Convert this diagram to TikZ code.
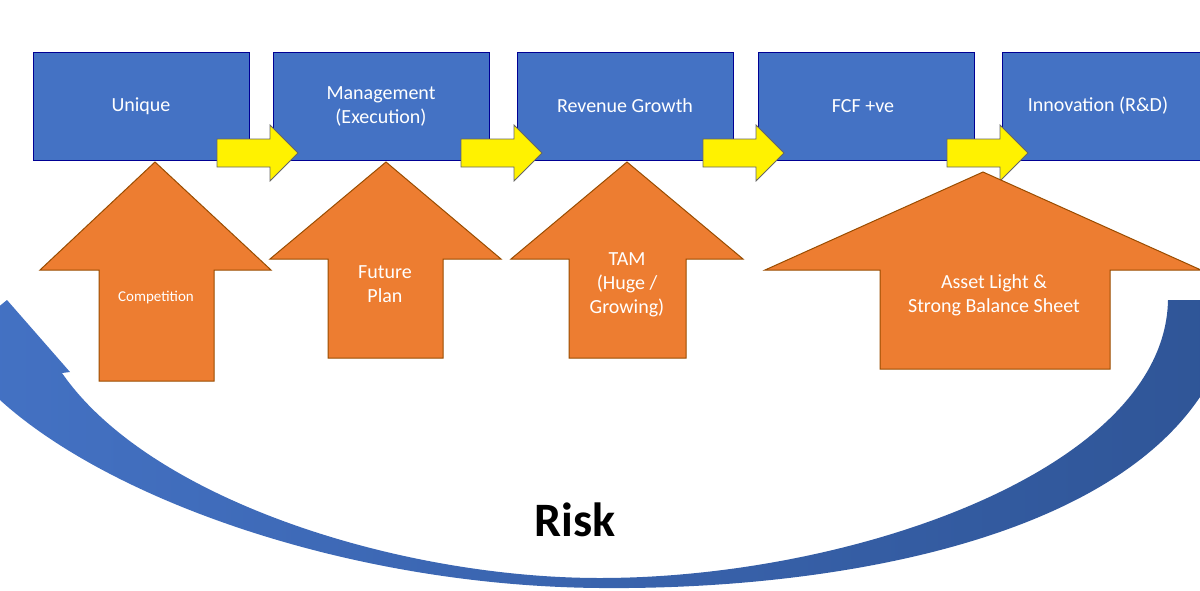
\documentclass[tikz,border=0pt]{standalone}
\usepackage{fontspec}
\setmainfont{Carlito}
\begin{document}
\begin{tikzpicture}[x=0.5pt,y=-0.5pt,
  bluebox/.style={draw=blue!40!black!70!blue, fill=boxblue, line width=0.5pt},
  yarrow/.style={draw=black!60, fill=yellow, line width=0.4pt},
  oarrow/.style={draw=orange!50!black!80!orange, fill=arrorange, line width=0.5pt},
  wtext/.style={text=white, font=\fontsize{10}{12}\selectfont, align=center}]
\definecolor{boxblue}{HTML}{4472C4}
\definecolor{arrorange}{HTML}{ED7D31}
\definecolor{darkblue}{HTML}{2F5597}
\useasboundingbox (0,0) rectangle (1200,590);
\clip (0,0) rectangle (1200,590);
% Risk curved arrow
\path[left color=boxblue, right color=darkblue, draw=none]
 (1200,397) .. controls (1100,545) and (820,590) .. (600,588)
 .. controls (350,586) and (110,500) .. (0,400)
 -- (-40,350) -- (-30,330) -- (7,300) -- (70,372) -- (62,373)
 .. controls (150,500) and (400,578) .. (600,578)
 .. controls (850,578) and (1165,470) .. (1168,300) -- (1220,300) -- (1220,397) -- cycle;
% blue boxes
\node[bluebox, minimum width=108pt, minimum height=54pt, inner sep=0, wtext] (b1) at (141,106) {Unique};
\node[bluebox, minimum width=108pt, minimum height=54pt, inner sep=0, wtext] (b2) at (381,106) {Management\\(Execution)};
\node[bluebox, minimum width=108pt, minimum height=54pt, inner sep=0, wtext] (b3) at (625,106) {Revenue Growth};
\node[bluebox, minimum width=108pt, minimum height=54pt, inner sep=0, wtext] (b4) at (866,106) {};
\node[wtext] (t4) at (863,106) {FCF +ve};
\node[bluebox, minimum width=108pt, minimum height=54pt, inner sep=0] (b5) at (1110,106) {};
\node[wtext] (t5) at (1098,106) {Innovation (R\&D)};
% yellow arrows
\foreach \s in {217,461,703,947}{
  \draw[yarrow] (\s,139) -- (\s+53,139) -- (\s+53,125) -- (\s+81,153) -- (\s+53,181) -- (\s+53,167) -- (\s,167) -- cycle;
}
% orange arrows
\draw[oarrow] (155,162) -- (271,270) -- (214,270) -- (214,381) -- (99,381) -- (99,270) -- (40,270) -- cycle;
\draw[oarrow] (386,162) -- (501,259) -- (443,259) -- (443,358) -- (328,358) -- (328,259) -- (270,259) -- cycle;
\draw[oarrow] (627,162) -- (743,259) -- (686,259) -- (686,358) -- (569,358) -- (569,259) -- (511,259) -- cycle;
\draw[oarrow] (983,172) -- (1201,270) -- (1110,270) -- (1110,369) -- (880,369) -- (880,270) -- (765,270) -- cycle;
\node[text=white, font=\fontsize{7.5}{9}\selectfont] (o1) at (156,298) {Competition};
\node[wtext] (o2) at (385,284) {Future\\Plan};
\node[wtext] (o3) at (627,285) {TAM\\(Huge /\\Growing)};
\node[wtext] (o4) at (994,295) {Asset Light \&\\Strong Balance Sheet};
\node[font=\bfseries\fontsize{24}{28}\selectfont] (risk) at (575,520) {Risk};
\end{tikzpicture}
\end{document}
